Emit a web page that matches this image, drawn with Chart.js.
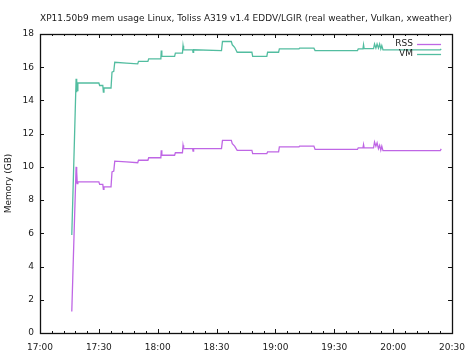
<!DOCTYPE html>
<html>
<head>
<meta charset="utf-8">
<script src="https://cdn.jsdelivr.net/npm/chart.js@4.4.1/dist/chart.umd.min.js"></script>
<style>
  html, body { margin: 0; padding: 0; background: #fff; }
  #wrap { width: 474px; height: 355px; position: relative; }
</style>
</head>
<body>
<div id="wrap"><canvas id="c" width="474" height="355"></canvas></div>
<script>
// ---- data (minutes after 17:00, memory in GB) ----
const chartTitle = 'XP11.50b9 mem usage Linux, Toliss A319 v1.4 EDDV/LGIR (real weather, Vulkan, xweather)';
const yAxisTitle = 'Memory (GB)';
const seriesNames = ['RSS', 'VM'];
const xTickLabels = ['17:00', '17:30', '18:00', '18:30', '19:00', '19:30', '20:00', '20:30'];
const yTickValues = [0, 2, 4, 6, 8, 10, 12, 14, 16, 18];

const minutes = [
  16.2, 16.7, 17.5, 18.4, 18.6, 18.8, 19.0, 19.3, 30.0, 30.4,
  32.0, 32.3, 32.6, 36.2, 36.7, 37.6, 38.1, 44.0, 49.8, 50.2,
  55.0, 55.4, 61.6, 61.8, 62.1, 68.6, 69.0, 72.6, 72.9, 73.2,
  77.8, 78.0, 78.3, 92.5, 93.0, 97.5, 98.0, 99.2, 100.5, 108.0,
  108.4, 115.6, 116.0, 121.6, 122.0, 132.0, 132.3, 139.6, 140.2, 161.8,
  162.2, 164.6, 164.9, 165.2, 170.0, 170.5, 171.2, 171.8, 172.5, 173.1,
  173.7, 174.2, 174.8, 204.0, 204.5
];
const rss = [
  1.3, 3.3, 6.5, 10.0, 9.0, 9.7, 9.0, 9.1, 9.1, 8.95,
  8.95, 8.65, 8.8, 8.8, 9.7, 9.75, 10.35, 10.3, 10.25, 10.4,
  10.4, 10.55, 10.55, 11.0, 10.7, 10.7, 10.85, 10.85, 11.3, 11.1,
  11.1, 10.95, 11.1, 11.1, 11.6, 11.6, 11.4, 11.25, 11.0, 11.0,
  10.8, 10.8, 10.9, 10.9, 11.2, 11.2, 11.25, 11.25, 11.05, 11.05,
  11.15, 11.15, 11.35, 11.15, 11.15, 11.5, 11.25, 11.45, 11.1, 11.3,
  11.0, 11.25, 10.98, 10.98, 11.08
];
const vm = [
  5.9, 8.0, 11.4, 15.3, 14.5, 15.2, 14.6, 15.05, 15.05, 14.9,
  14.9, 14.5, 14.75, 14.75, 15.7, 15.75, 16.3, 16.25, 16.2, 16.35,
  16.35, 16.5, 16.5, 17.0, 16.65, 16.65, 16.85, 16.85, 17.3, 17.05,
  17.05, 16.9, 17.05, 17.0, 17.55, 17.55, 17.35, 17.2, 16.9, 16.9,
  16.65, 16.65, 16.9, 16.9, 17.1, 17.1, 17.15, 17.15, 17.0, 17.0,
  17.1, 17.1, 17.35, 17.12, 17.12, 17.4, 17.15, 17.4, 17.15, 17.4,
  17.1, 17.3, 17.05, 17.05, 17.1
];

const seriesColors = ['rgba(148,0,211,0.6)', 'rgba(0,158,115,0.68)'];
const FONT = 'DejaVu Sans';
const TEXT = '#1a1a1a';

const toPoints = (ys) => minutes.map((m, i) => ({ x: m, y: ys[i] }));

// frame + inward gnuplot-style ticks + key
const framePlugin = {
  id: 'frame',
  afterDatasetsDraw(chart) {
    const { ctx, chartArea: a, scales } = chart;
    const xs = scales.x, ys = scales.y;
    ctx.save();
    ctx.strokeStyle = '#111';
    ctx.lineWidth = 1;
    ctx.beginPath();
    yTickValues.forEach(v => {
      const py = Math.round(ys.getPixelForValue(v)) + 0.5;
      ctx.moveTo(a.left, py); ctx.lineTo(a.left + 4, py);
      ctx.moveTo(a.right, py); ctx.lineTo(a.right - 4, py);
    });
    for (let m = xs.min; m <= xs.max + 0.001; m += 6) {
      const px = Math.round(xs.getPixelForValue(m)) + 0.5;
      const len = (Math.round(m) % 30 === 0) ? 4 : 2;
      ctx.moveTo(px, a.bottom); ctx.lineTo(px, a.bottom - len);
      ctx.moveTo(px, a.top); ctx.lineTo(px, a.top + len);
    }
    ctx.stroke();
    ctx.lineWidth = 1.3;
    ctx.strokeRect(Math.round(a.left) + 0.5, Math.round(a.top) + 0.5,
                   Math.round(a.right - a.left), Math.round(a.bottom - a.top));
    ctx.font = '9px "' + FONT + '"';
    ctx.textAlign = 'right';
    ctx.textBaseline = 'middle';
    chart.data.datasets.forEach((ds, i) => {
      const y = a.top + 10 + i * 10;
      ctx.fillStyle = TEXT;
      ctx.fillText(ds.label, a.right - 39, y);
      ctx.strokeStyle = ds.borderColor;
      ctx.lineWidth = 1.3;
      ctx.beginPath();
      ctx.moveTo(a.right - 35, Math.round(y) + 0.5);
      ctx.lineTo(a.right - 11, Math.round(y) + 0.5);
      ctx.stroke();
    });
    ctx.restore();
  }
};

new Chart(document.getElementById('c'), {
  type: 'line',
  data: {
    datasets: [
      { label: seriesNames[0], data: toPoints(rss), borderColor: seriesColors[0], borderWidth: 1.3, pointRadius: 0, tension: 0, fill: false },
      { label: seriesNames[1], data: toPoints(vm), borderColor: seriesColors[1], borderWidth: 1.3, pointRadius: 0, tension: 0, fill: false }
    ]
  },
  options: {
    responsive: false,
    animation: false,
    layout: { padding: { left: 0, right: 16, top: 0, bottom: 0 } },
    plugins: {
      legend: { display: false },
      tooltip: { enabled: false },
      title: {
        display: true,
        text: chartTitle,
        fullSize: false,
        color: TEXT,
        font: { family: FONT, size: 9, weight: 'normal' },
        padding: { top: 13, bottom: 10.2 }
      }
    },
    scales: {
      x: {
        type: 'linear',
        min: 0,
        max: 210,
        grid: { display: false, drawTicks: false },
        border: { display: false },
        afterFit: (s) => { s.height = 22; },
        afterBuildTicks: (s) => { s.ticks = xTickLabels.map((_, i) => ({ value: i * 30 })); },
        ticks: {
          autoSkip: false,
          maxRotation: 0,
          padding: 9,
          color: TEXT,
          font: { family: FONT, size: 9 },
          callback: (v, i) => xTickLabels[i]
        }
      },
      y: {
        min: 0,
        max: 18,
        grid: { display: false, drawTicks: false },
        border: { display: false },
        afterFit: (s) => { s.width = 40; },
        ticks: {
          stepSize: 2,
          padding: 6,
          color: TEXT,
          font: { family: FONT, size: 9 }
        },
        title: {
          display: true,
          text: yAxisTitle,
          color: TEXT,
          font: { family: FONT, size: 9 },
          padding: { top: 3, bottom: 0 }
        }
      }
    }
  },
  plugins: [framePlugin]
});
</script>
</body>
</html>
